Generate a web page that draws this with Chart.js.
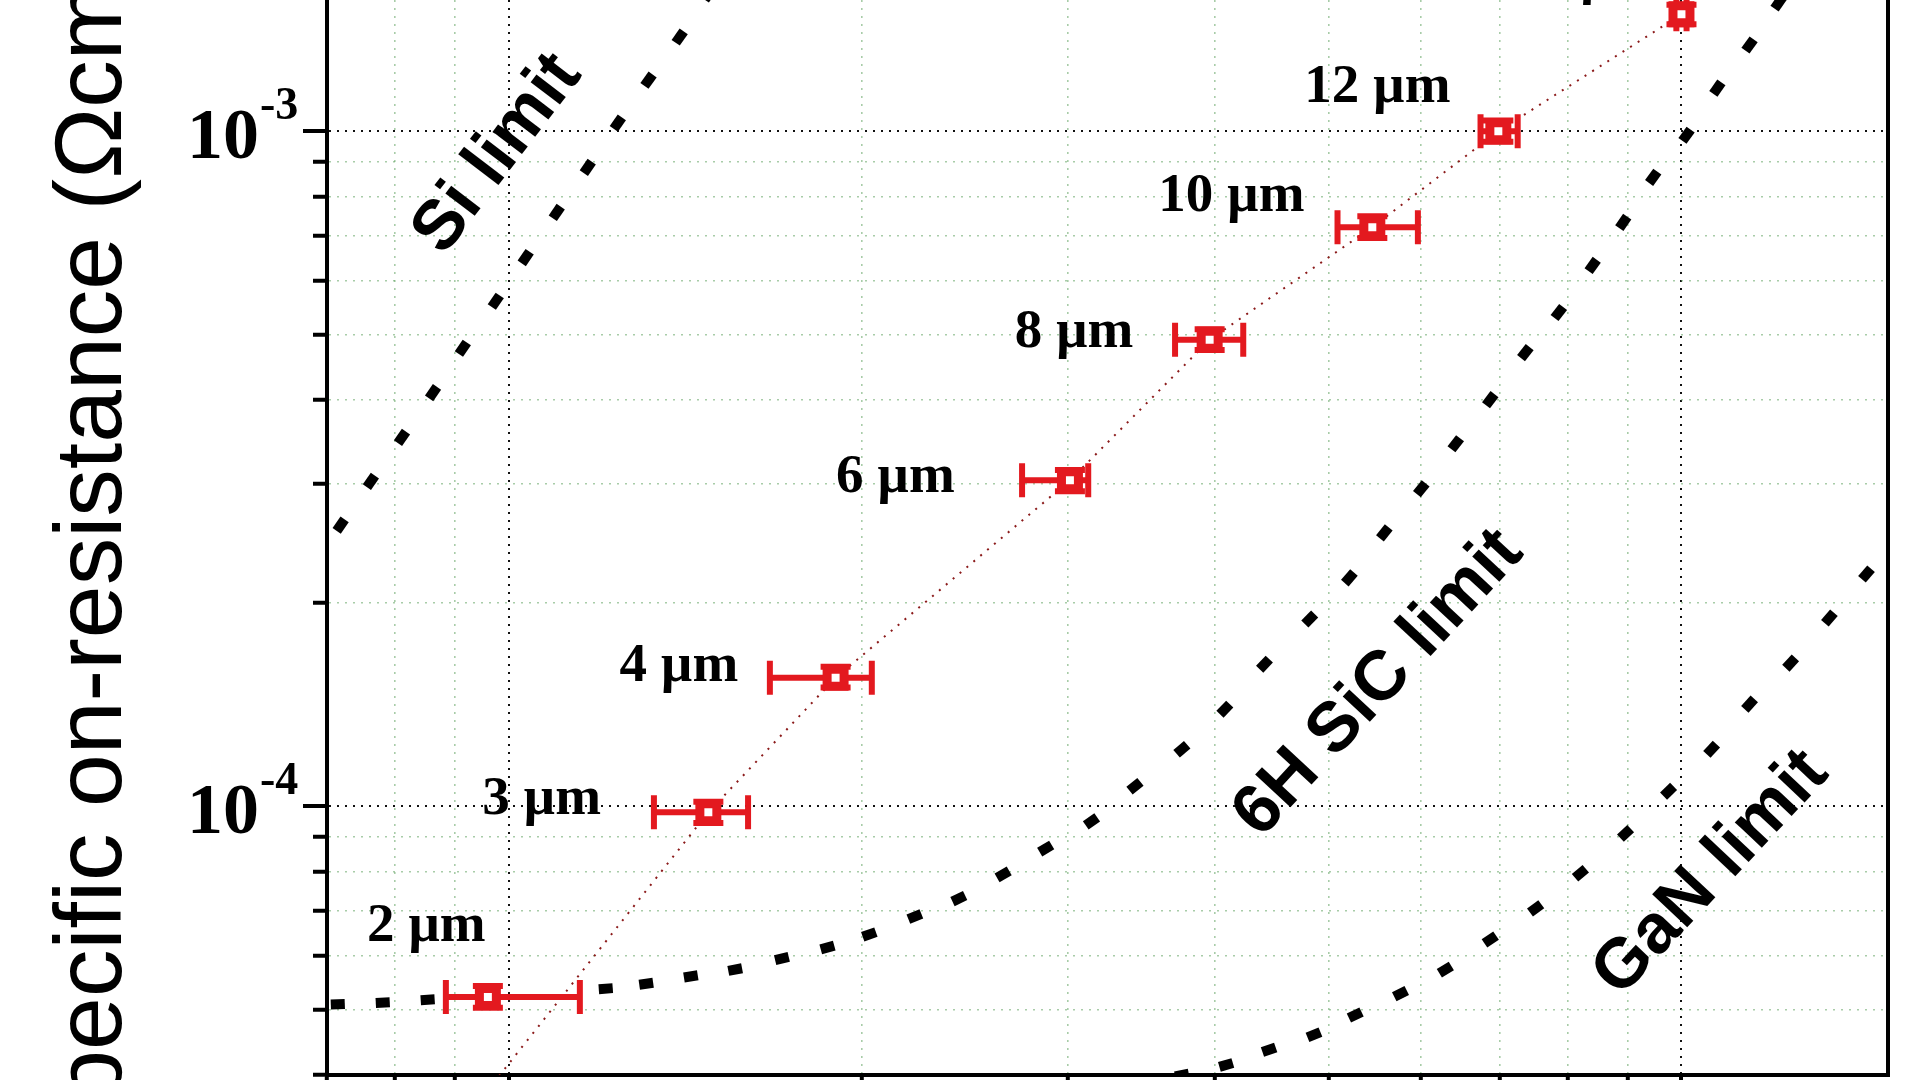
<!DOCTYPE html>
<html>
<head>
<meta charset="utf-8">
<script src="https://cdn.jsdelivr.net/npm/chart.js@4.4.0/dist/chart.umd.min.js"></script>
<style>
  html, body { margin: 0; padding: 0; background: #fff; overflow: hidden; width: 1920px; height: 1080px; }
  #wrap { position: absolute; left: 0; top: -100px; width: 1920px; height: 1200px; }
</style>
</head>
<body>
<div id="wrap"><canvas id="ronChart" width="1920" height="1200"></canvas></div>
<script>
// devices: gate-drain spacing, breakdown voltage (V), specific on-resistance (Ohm cm2)
const gapLabels = ['2 µm', '3 µm', '4 µm', '6 µm', '8 µm', '10 µm', '12 µm', '14 µm'];
const bv    = [96, 148, 190, 301, 396, 545, 698, 1000];
const bvLo  = [88.4, 133, 167, 274, 370, 509, 674, 990];
const bvHi  = [115, 160, 204, 312, 423, 596, 725, 1010];
const ron   = [5.22e-5, 9.8e-5, 1.55e-4, 3.04e-4, 4.91e-4, 7.21e-4, 1.0e-3, 1.49e-3];
const ronLo = [5.03e-5, 9.45e-5, 1.50e-4, 2.93e-4, 4.74e-4, 6.95e-4, 9.65e-4, 1.44e-3];
const ronHi = [5.42e-5, 1.016e-4, 1.61e-4, 3.15e-4, 5.09e-4, 7.48e-4, 1.037e-3, 1.54e-3];

// thin dotted guide through the devices
const trendBv  = [96, 148, 190, 301, 396, 545, 698, 1000];
const trendRon = [3.8e-5, 9.8e-5, 1.55e-4, 3.04e-4, 4.91e-4, 7.21e-4, 1.0e-3, 1.49e-3];

// material limits (dots)
const siBv  = [71.9, 76.3, 81.1, 86.2, 91.4, 97.5, 103.4, 109.9, 116.8, 123.9, 131.6, 139.9, 148.1, 157.1, 166.6];
const siRon = [2.61e-4, 3.03e-4, 3.52e-4, 4.10e-4, 4.77e-4, 5.60e-4, 6.50e-4, 7.58e-4, 8.84e-4, 1.028e-3, 1.19e-3, 1.379e-3, 1.597e-3, 1.856e-3, 2.149e-3];

const sicBv  = [71.5, 78.1, 85.3, 121, 131, 143, 156, 171, 187, 203, 222, 242, 264, 287, 314, 342, 375, 408,
                441, 482, 521, 558, 600, 642, 687, 736, 786, 840, 892, 946, 1010, 1073, 1143, 1210, 1283];
const sicRon = [5.09e-5, 5.12e-5, 5.17e-5, 5.37e-5, 5.46e-5, 5.60e-5, 5.73e-5, 5.95e-5, 6.18e-5, 6.46e-5, 6.87e-5,
                7.30e-5, 7.93e-5, 8.66e-5, 9.50e-5, 1.071e-4, 1.215e-4, 1.393e-4, 1.624e-4, 1.894e-4, 2.18e-4,
                2.541e-4, 2.954e-4, 3.444e-4, 4.003e-4, 4.70e-4, 5.389e-4, 6.327e-4, 7.329e-4, 8.545e-4,
                9.864e-4, 1.158e-3, 1.342e-3, 1.549e-3, 1.79e-3];

const ganBv  = [343, 375, 409, 445, 486, 527, 576, 629, 687, 751, 820, 896, 975, 1061, 1143, 1239, 1337, 1438, 1552];
const ganRon = [3.90e-5, 4.00e-5, 4.14e-5, 4.36e-5, 4.59e-5, 4.91e-5, 5.28e-5, 5.73e-5, 6.35e-5, 7.06e-5,
                7.96e-5, 9.12e-5, 1.053e-4, 1.215e-4, 1.417e-4, 1.63e-4, 1.901e-4, 2.209e-4, 2.577e-4];

const limitNames = ['Si limit', '6H SiC limit', 'GaN limit'];

// axes
const xTicks = [70, 80, 90, 100, 200, 300, 400, 500, 600, 700, 800, 900, 1000];
const yTicks = [4e-5, 5e-5, 6e-5, 7e-5, 8e-5, 9e-5, 1e-4, 2e-4, 3e-4, 4e-4, 5e-4, 6e-4, 7e-4, 8e-4, 9e-4, 1e-3, 2e-3];
const yTitle = 'Specific on-resistance (Ωcm²)';

const RED = '#e3191f';
const isDecade = v => Math.abs(Math.log10(v) - Math.round(Math.log10(v))) < 1e-6;
const pts = (xs, ys) => xs.map((v, i) => ({x: v, y: ys[i]}));

// label placement (pixel offsets from each device point, left/baseline of text)
const labelOffsets = [[-121, -56], [-226, 2], [-216, 3], [-234, 12], [-195, 7], [-214, -16], [-194, -29], [-170, -21]];
const limitAnchors = [
  {x: 97.9, y: 9.25e-4, angle: -52.6},
  {x: 552, y: 1.52e-4, angle: -47.2},
  {x: 1060, y: 7.95e-5, angle: -46.8}
];

function dotAngle(ctx) {
  const d = ctx.dataset.data, i = ctx.dataIndex;
  const a = d[Math.max(0, i - 1)], b = d[Math.min(d.length - 1, i + 1)];
  const xs = ctx.chart.scales.x, ys = ctx.chart.scales.y;
  const dx = xs.getPixelForValue(b.x) - xs.getPixelForValue(a.x);
  const dy = ys.getPixelForValue(b.y) - ys.getPixelForValue(a.y);
  return Math.atan2(dy, dx) * 180 / Math.PI;
}

function limitSet(label, xs, ys) {
  return {
    label: label,
    data: pts(xs, ys),
    pointStyle: 'line',
    pointRadius: 7,
    pointBorderWidth: 10,
    pointBorderColor: '#000',
    pointRotation: dotAngle,
    showLine: false
  };
}

const annotate = {
  id: 'annotate',
  beforeDatasetDraw(chart, args) {
    if (args.index !== 0) return;
    const {ctx, scales: {x, y}} = chart;
    ctx.save();
    ctx.strokeStyle = RED;
    ctx.lineWidth = 6;
    bv.forEach((v, i) => {
      const px = x.getPixelForValue(v), py = y.getPixelForValue(ron[i]);
      const x0 = x.getPixelForValue(bvLo[i]), x1 = x.getPixelForValue(bvHi[i]);
      const y0 = y.getPixelForValue(ronLo[i]), y1 = y.getPixelForValue(ronHi[i]);
      ctx.beginPath();
      ctx.moveTo(x0, py); ctx.lineTo(x1, py);
      ctx.moveTo(x0, py - 17); ctx.lineTo(x0, py + 17);
      ctx.moveTo(x1, py - 17); ctx.lineTo(x1, py + 17);
      ctx.moveTo(px, y0); ctx.lineTo(px, y1);
      ctx.moveTo(px - 15, y0); ctx.lineTo(px + 15, y0);
      ctx.moveTo(px - 15, y1); ctx.lineTo(px + 15, y1);
      ctx.stroke();
    });
    ctx.restore();
  },
  afterDraw(chart) {
    const {ctx, chartArea: a, scales: {x, y}} = chart;
    ctx.save();
    // right and top frame
    ctx.strokeStyle = '#000';
    ctx.lineWidth = 4;
    ctx.beginPath();
    ctx.moveTo(a.left, a.top); ctx.lineTo(a.right, a.top); ctx.lineTo(a.right, a.bottom + 2);
    ctx.stroke();

    ctx.fillStyle = '#000';
    // y tick labels 10^n
    yTicks.filter(isDecade).forEach(v => {
      const py = y.getPixelForValue(v);
      const exp = Math.round(Math.log10(v));
      ctx.font = "bold 72px 'Liberation Serif'";
      ctx.textAlign = 'right';
      ctx.textBaseline = 'alphabetic';
      ctx.fillText('10', a.left - 68, py + 27);
      ctx.font = "bold 46px 'Liberation Serif'";
      ctx.textAlign = 'left';
      ctx.fillText(String(exp), a.left - 67, py - 12);
    });

    // y axis title
    ctx.save();
    ctx.translate(121, 642);
    ctx.rotate(-Math.PI / 2);
    ctx.font = "95px 'Liberation Sans'";
    ctx.textAlign = 'center';
    ctx.textBaseline = 'alphabetic';
    ctx.fillText(yTitle, 0, 0);
    ctx.restore();

    // device labels
    ctx.font = "bold 55px 'Liberation Serif'";
    ctx.textAlign = 'left';
    ctx.textBaseline = 'alphabetic';
    gapLabels.forEach((t, i) => {
      const px = x.getPixelForValue(bv[i]) + labelOffsets[i][0];
      const py = y.getPixelForValue(ron[i]) + labelOffsets[i][1];
      ctx.fillText(t, px, py);
    });

    // limit labels
    ctx.font = "bold 70px 'Liberation Sans'";
    ctx.textAlign = 'center';
    ctx.textBaseline = 'middle';
    limitNames.forEach((t, i) => {
      const an = limitAnchors[i];
      ctx.save();
      ctx.translate(x.getPixelForValue(an.x), y.getPixelForValue(an.y));
      ctx.rotate(an.angle * Math.PI / 180);
      ctx.fillText(t, 0, 0);
      ctx.restore();
    });
    ctx.restore();
  }
};

new Chart(document.getElementById('ronChart'), {
  type: 'scatter',
  data: {
    datasets: [
      {
        label: 'devices',
        data: pts(bv, ron),
        pointStyle: 'rect',
        pointRadius: 12,
        pointBorderWidth: 9,
        pointBorderColor: RED,
        pointBackgroundColor: '#fff',
        showLine: false
      },
      {
        label: 'trend',
        data: pts(trendBv, trendRon),
        showLine: true,
        borderColor: '#8b1a1a',
        borderWidth: 2,
        borderDash: [2, 7],
        pointRadius: 0
      },
      limitSet(limitNames[0], siBv, siRon),
      limitSet(limitNames[1], sicBv, sicRon),
      limitSet(limitNames[2], ganBv, ganRon)
    ]
  },
  options: {
    responsive: false,
    devicePixelRatio: 1,
    animation: false,
    events: [],
    layout: { padding: { left: 0, right: 32, top: 28, bottom: 0 } },
    plugins: {
      legend: { display: false },
      tooltip: { enabled: false }
    },
    scales: {
      x: {
        type: 'logarithmic',
        min: 70,
        max: 1500,
        afterBuildTicks: scale => { scale.ticks = xTicks.map(v => ({value: v, major: isDecade(v)})); },
        afterFit: scale => { scale.height = 25; },
        ticks: { display: false },
        border: { display: true, color: '#000', width: 4, dash: [2, 6] },
        grid: {
          color: c => (c.tick && isDecade(c.tick.value)) ? '#111' : 'rgba(110,170,110,0.6)',
          lineWidth: c => (c.tick && isDecade(c.tick.value)) ? 2 : 1.6,
          drawTicks: true,
          tickLength: 20,
          tickWidth: 4,
          tickColor: '#000'
        }
      },
      y: {
        type: 'logarithmic',
        min: 4e-5,
        max: 2e-3,
        afterBuildTicks: scale => { scale.ticks = yTicks.map(v => ({value: v, major: isDecade(v)})); },
        afterFit: scale => { scale.width = 327; },
        ticks: { display: false },
        border: { display: true, color: '#000', width: 4, dash: [2, 6] },
        grid: {
          color: c => (c.tick && isDecade(c.tick.value)) ? '#111' : 'rgba(110,170,110,0.6)',
          lineWidth: c => (c.tick && isDecade(c.tick.value)) ? 2 : 1.6,
          drawTicks: true,
          tickLength: 24,
          tickWidth: 4,
          tickColor: '#000',
          tickBorderDash: c => (c.tick && isDecade(c.tick.value)) ? [] : [0, 10, 12, 100]
        }
      }
    }
  },
  plugins: [annotate]
});
</script>
</body>
</html>
